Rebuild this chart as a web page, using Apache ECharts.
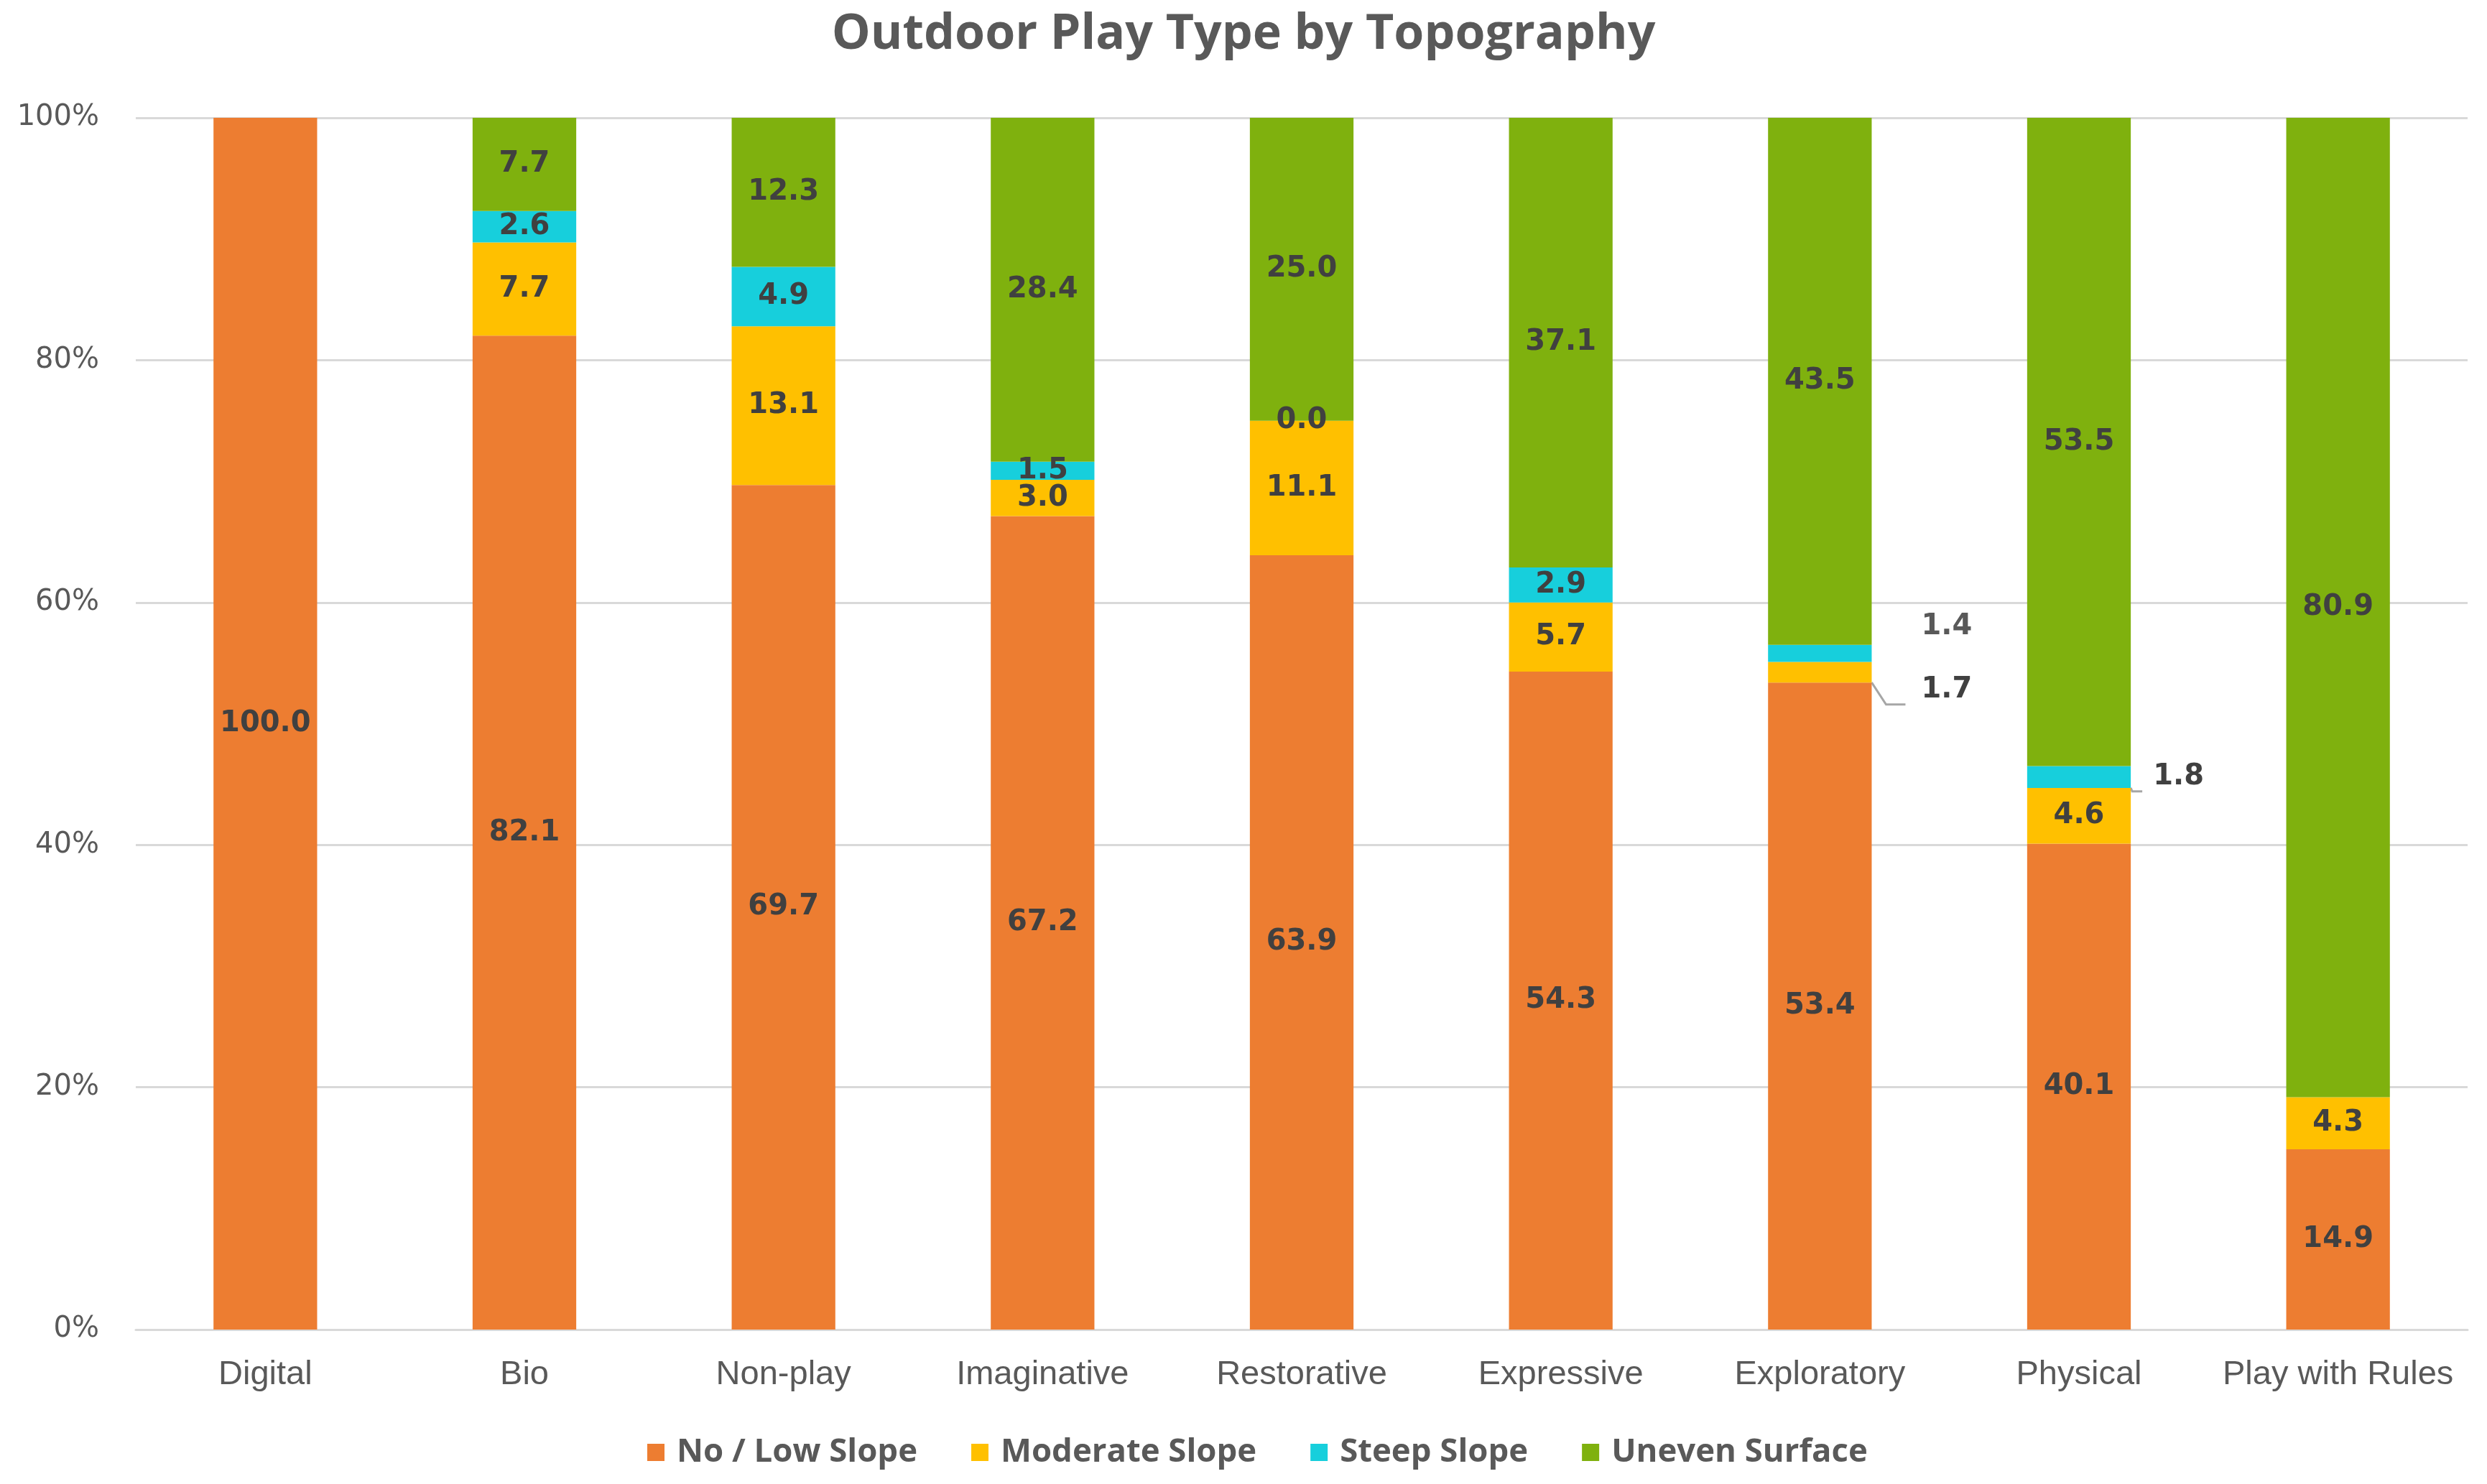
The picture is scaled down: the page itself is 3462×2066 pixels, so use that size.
<!DOCTYPE html>
<html><head><meta charset="utf-8">
<script src="https://cdn.jsdelivr.net/npm/echarts@6/dist/echarts.min.js"></script>
<style>html,body{margin:0;padding:0;background:#fff}#c{width:3462px;height:2066px}</style>
</head><body><div id="c"></div>
<script>
const categories = ['Digital','Bio','Non-play','Imaginative','Restorative','Expressive','Exploratory','Physical','Play with Rules'];
const seriesNames = ['No / Low Slope','Moderate Slope','Steep Slope','Uneven Surface'];
const noLowSlope    = [100.0, 82.1, 69.7, 67.2, 63.9, 54.3, 53.4, 40.1, 14.9];
const moderateSlope = [null,   7.7, 13.1,  3.0, 11.1,  5.7,  1.7,  4.6,  4.3];
const steepSlope    = [null,   2.6,  4.9,  1.5,  0.0,  2.9,  1.4,  1.8, null];
const unevenSurface = [null,   7.7, 12.3, 28.4, 25.0, 37.1, 43.5, 53.5, 80.9];
const yTickLabels = ['0%','20%','40%','60%','80%','100%'];

const colors = ['#ED7D31','#FFC000','#17CFDC','#7FB10E'];
const allSeries = [noLowSlope, moderateSlope, steepSlope, unevenSurface];
const totals = categories.map((c,i)=>allSeries.reduce((s,arr)=>s+(arr[i]||0),0));

// label overrides for small segments (styles/positions only)
const overrides = {
  '1-Exploratory': {label:{position:'right',distance:47,offset:[0,25],padding:[0,0,0,22],backgroundColor:'rgba(0,0,0,0)'},
                    labelLine:{show:true,length2:27,lineStyle:{color:'#A6A6A6',width:3}}},
  '2-Exploratory': {label:{position:'right',distance:69,offset:[0,-37],color:'#595959'}},
  '2-Physical':    {label:{position:'right',distance:16,padding:[0,0,0,15],backgroundColor:'rgba(0,0,0,0)'},
                    labelLine:{show:true,length2:14,lineStyle:{color:'#A6A6A6',width:3}}}
};

const labelFont = {fontFamily:'DejaVu Sans', fontWeight:'bold', fontSize:40, color:'#404040'};

const series = allSeries.map((arr, si) => ({
  name: seriesNames[si],
  type: 'bar',
  stack: 'total',
  barWidth: '40%',
  itemStyle: {color: colors[si]},
  label: Object.assign({show:true, position:'inside', formatter: p => p.data.raw.toFixed(1)}, labelFont),
  data: arr.map((v, i) => {
    if (v === null) return {value: null, raw: null};
    const item = {value: v / totals[i] * 100, raw: v};
    const ov = overrides[si + '-' + categories[i]];
    if (ov) Object.assign(item, JSON.parse(JSON.stringify(ov)));
    return item;
  })
}));

const chart = echarts.init(document.getElementById('c'), null, {renderer:'canvas'});
chart.setOption({
  animation: false,
  backgroundColor: '#fff',
  title: {text:'Outdoor Play Type by Topography', left:'center', top:10,
    textStyle:{fontFamily:'Open Sans', fontWeight:'bold', fontSize:68, color:'#595959'}},
  legend: {data: seriesNames, bottom: 16, left: 896, itemWidth:24, itemHeight:24, itemGap:75,
    icon:'rect',
    textStyle:{fontFamily:'Open Sans', fontWeight:'bold', fontSize:45.5, color:'#595959', padding:[0,0,0,12]}},
  grid: {left:189, right:27, top:164, bottom:215, containLabel:false},
  xAxis: {type:'category', data: categories,
    axisLine:{lineStyle:{color:'#D9D9D9', width:3}}, axisTick:{show:false},
    axisLabel:{interval:0, fontFamily:'Liberation Sans', fontSize:47, color:'#595959', margin:40}},
  yAxis: {type:'value', min:0, max:100, interval:20,
    axisLine:{show:false}, axisTick:{show:false},
    splitLine:{lineStyle:{color:'#D9D9D9', width:3}},
    axisLabel:{fontFamily:'DejaVu Sans', fontSize:40, color:'#595959', margin:51,
      formatter: v => yTickLabels[Math.round(v/20)]}},
  series
});
</script></body></html>
